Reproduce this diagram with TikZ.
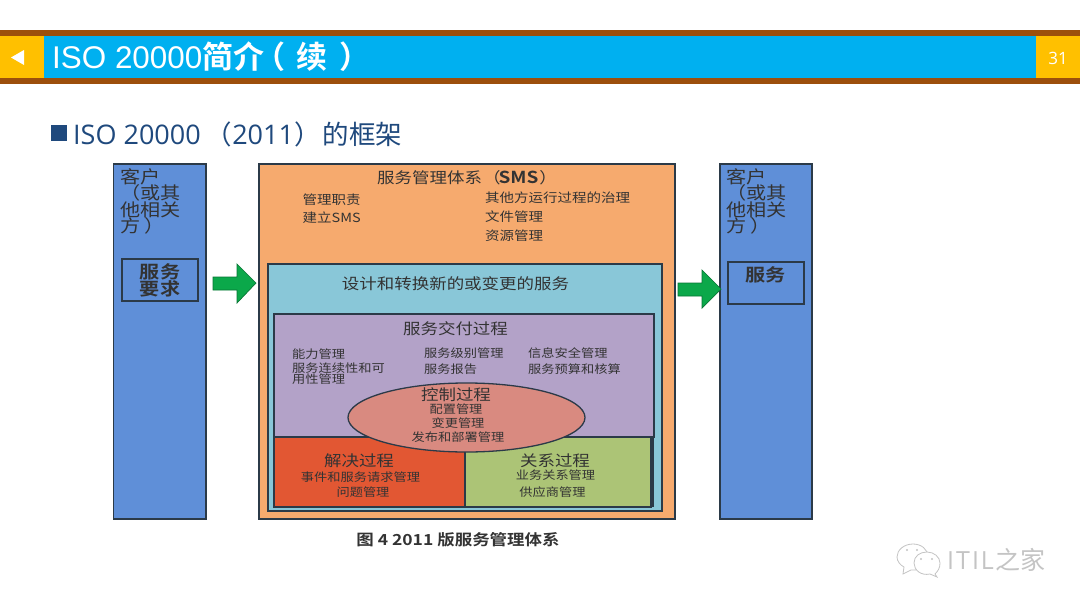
\documentclass[tikz,border=0pt]{standalone}
\usepackage{fontspec}
\newfontfamily\cjk[BoldFont={Noto Sans CJK SC Bold}]{Noto Sans CJK SC}
\newfontfamily\wcjk[FakeStretch=1.15,BoldFont={Noto Sans CJK SC Bold},BoldFeatures={FakeStretch=1.15}]{Noto Sans CJK SC}
\newfontfamily\arl{Liberation Sans}
\newfontfamily\opn{Open Sans}
\definecolor{brownbar}{HTML}{9C4F0C}
\definecolor{cyanbar}{HTML}{00B0F0}
\definecolor{amberbar}{HTML}{FFC000}
\definecolor{navytext}{HTML}{1F497D}
\definecolor{sideblue}{HTML}{5F8FD8}
\definecolor{smsorange}{HTML}{F6AA6E}
\definecolor{teal2}{HTML}{89C7D8}
\definecolor{purple2}{HTML}{B3A2C8}
\definecolor{red2}{HTML}{E25733}
\definecolor{green2}{HTML}{ACC476}
\definecolor{ell}{HTML}{D98A80}
\definecolor{edge2}{HTML}{2B3A48}
\definecolor{ink}{HTML}{333333}
\definecolor{arrowg}{HTML}{0BA84A}
\definecolor{wm}{HTML}{C4C4C4}
\newcommand{\fs}[1]{\fontsize{#1}{#1}\selectfont}
\tikzset{
  bar/.style={fill=#1,draw=none},
  panel/.style={fill=#1,draw=edge2,line width=1.3pt},
  lab/.style={inner sep=0pt,text=ink,font=\wcjk\fs{11.5}},
  labl/.style={lab,anchor=west},
  labw/.style={labl,font=\wcjk\fs{12.6}},
  head/.style={inner sep=0pt,text=ink,font=\wcjk\fs{15.2}},
  side/.style={inner sep=0pt,anchor=north west,align=left,text=ink,font=\wcjk\fontsize{17.5}{16.5}\selectfont},
  bigarrow/.style={fill=arrowg,draw=arrowg!70!black,line width=0.7pt,line join=miter},
  wmline/.style={draw=wm,line width=0.8pt,fill=white}
}
\begin{document}
\begin{tikzpicture}[x=1pt,y=-1pt]
\useasboundingbox (0,0) rectangle (1080,608);
\fill[white] (0,0) rectangle (1080,608);
% header
\path[bar=brownbar] (0,30) rectangle (1080,83.5);
\path[bar=cyanbar] (0,36) rectangle (1080,78);
\path[bar=amberbar] (0,36) rectangle (44,78);
\path[bar=amberbar] (1036,36) rectangle (1080,78);
\fill[white] (11,57.5) -- (24,50) -- (24,65) -- cycle;
\node[inner sep=0pt,anchor=west,text=white] (title) at (52,57) {\arl\fs{31.4}ISO 20000\cjk\bfseries\fs{31}简介\hspace{-10pt}（\hspace{11pt}续\hspace{12pt}）};
\node[inner sep=0pt,text=white,font=\opn\fs{17}] (pagenum) at (1058,58) {31};
% subtitle
\fill[navytext] (51,125) rectangle (67,141);
\node[inner sep=0pt,anchor=west,text=navytext] (sub) at (73,134) {\opn\fs{27}ISO 20000\hspace{5pt}\cjk\fs{26.5}（\opn\fs{27}2011\cjk\fs{26.5}）\hspace{2pt}的框架};
% side boxes
\node[panel=sideblue,minimum width=92.5pt,minimum height=355pt,inner sep=0pt] (leftbox) at (159.75,341.5) {};
\node[panel=sideblue,minimum width=92pt,minimum height=355pt,inner sep=0pt] (rightbox) at (766,341.5) {};
\node[side] (lefttxt) at (120,168) {客户\\（或其\\他相关\\方\hspace{4pt}）};
\node[side] (righttxt) at (726,168) {客户\\（或其\\他相关\\方\hspace{4pt}）};
\node[panel=sideblue,minimum width=76pt,minimum height=42pt,inner sep=0pt] (reqbox) at (160,280) {};
\node[inner sep=0pt,align=center,text=ink,font=\wcjk\bfseries\fontsize{17.5}{17}\selectfont] (reqtxt) at (160,280.5) {服务\\要求};
\node[panel=sideblue,minimum width=76pt,minimum height=42pt,inner sep=0pt] (svcbox) at (766,283) {};
\node[inner sep=0pt,text=ink,font=\wcjk\bfseries\fs{17.5}] (svctxt) at (765.5,274.5) {服务};
% SMS
\node[panel=smsorange,minimum width=416pt,minimum height=355pt,inner sep=0pt] (sms) at (467,341.5) {};
\node[head,anchor=west] (smst) at (377,178) {服务管理体系\hspace{1pt}（\hspace{-2pt}{\bfseries\fs{16.5}SMS}\hspace{1pt}）};
\node[labw] at (302.5,200) {管理职责};
\node[labw] at (302.5,217.5) {建立SMS};
\node[labw] at (485,198) {其他方运行过程的治理};
\node[labw] at (485,216.5) {文件管理};
\node[labw] at (485,236) {资源管理};
% design
\node[panel=teal2,minimum width=394pt,minimum height=247pt,inner sep=0pt] (design) at (465,387.5) {};
\node[head] (designt) at (455.5,283.5) {设计和转换新的或变更的服务};
% delivery
\node[panel=purple2,minimum width=380pt,minimum height=123pt,inner sep=0pt] (delivery) at (464,375.5) {};
\node[head] (deliveryt) at (455.5,329) {服务交付过程};
\node[labl] at (292,354) {能力管理};
\node[labl] at (292,368.5) {服务连续性和可};
\node[labl] at (292,379.5) {用性管理};
\node[labl] at (424,353) {服务级别管理};
\node[labl] at (424,369.5) {服务报告};
\node[labl] at (528,353) {信息安全管理};
\node[labl] at (528,369.5) {服务预算和核算};
% resolution / relationship
\fill[edge2] (651,437) rectangle (654,507);
\node[panel=red2,minimum width=191pt,minimum height=70pt,inner sep=0pt] (resolve) at (369.5,472) {};
\node[panel=green2,minimum width=186pt,minimum height=70pt,inner sep=0pt] (relation) at (558,472) {};
\node[head] at (359,461) {解决过程};
\node[lab] at (360.5,477) {事件和服务请求管理};
\node[lab] at (363,492) {问题管理};
\node[head] at (555,461) {关系过程};
\node[lab] at (555.5,475.5) {业务关系管理};
\node[lab] at (552.5,492) {供应商管理};
% control ellipse
\draw[fill=ell,draw=edge2,line width=1.3pt] (466.5,417.5) ellipse [x radius=118.5,y radius=34.5];
\node[head] (ctl) at (456,395) {控制过程};
\node[lab] at (456,409) {配置管理};
\node[lab] at (458,423) {变更管理};
\node[lab] at (458,437) {发布和部署管理};
% arrows
\draw[bigarrow] (213,277) -- (237,277) -- (237,264) -- (256,283) -- (237,303) -- (237,290) -- (213,290) -- cycle;
\draw[bigarrow] (678,283) -- (702,283) -- (702,270) -- (721,289) -- (702,308) -- (702,296) -- (678,296) -- cycle;
% caption
\node[inner sep=0pt,text=ink,font=\wcjk\bfseries\fs{15.2}] (caption) at (458,540) {图 4 2011 版服务管理体系};
% watermark
\draw[wmline] (904,567) -- (903,574) -- (911,570) .. controls (921,571) and (928,565) .. (928,557) .. controls (928,549) and (921,544) .. (913,544) .. controls (904,544) and (897,550) .. (897,557) .. controls (897,561) and (900,565) .. (904,567) -- cycle;
\draw[wmline] (935,574) -- (937,577) -- (930,574) .. controls (921,576) and (914,570) .. (914,563) .. controls (914,556) and (920,552) .. (927,552) .. controls (934,552) and (940,557) .. (940,563) .. controls (940,568) and (938,571) .. (935,574) -- cycle;
\fill[wm] (907,550) circle (1.1) (917,550) circle (1.1) (921,559) circle (1.1) (932,559) circle (1.1);
\node[inner sep=0pt,anchor=west,text=wm] (wmtxt) at (947,560) {\opn\fs{25}I\kern2pt T\kern2pt I\kern2pt L\kern2pt\cjk\fs{25}之家};
\end{tikzpicture}
\end{document}
